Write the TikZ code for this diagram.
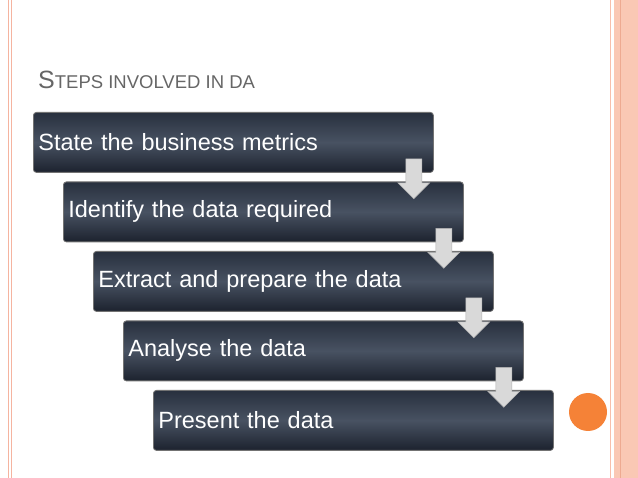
\documentclass[tikz,border=0pt]{standalone}
\usepackage{fontspec}
\setmainfont{Liberation Sans}
\definecolor{boxtop}{RGB}{40,48,62}
\definecolor{boxmid}{RGB}{72,82,98}
\definecolor{boxbot}{RGB}{28,34,46}
\begin{document}
\begin{tikzpicture}[x=1pt,y=-1pt,
  stepbox/.style={draw=black!55,line width=0.8pt,rounded corners=3pt,top color=boxtop,bottom color=boxbot,middle color=boxmid,minimum width=400pt,minimum height=60pt,anchor=north west,text=white,font=\fontsize{23.5}{26}\selectfont,align=left,text width=390pt,inner xsep=5pt},
  downarrow/.style={fill=black!15,draw=black!30,line width=0.5pt}]
\useasboundingbox (0,0) rectangle (638,478);
\fill[white] (0,0) rectangle (638,478);
\draw[color={rgb,255:red,245;green,180;blue,160},line width=1pt] (8,0)--(8,478) (11,0)--(11,478);
\draw[color={rgb,255:red,248;green,190;blue,170},line width=1pt] (610,0)--(610,478);
\fill[color={rgb,255:red,250;green,200;blue,180}] (614,0) rectangle (638,478);
\draw[color={rgb,255:red,238;green,170;blue,145},line width=1pt] (620,0)--(620,478);
\node[anchor=base west,text=black!60,inner sep=0pt] (title) at (38,89) {\fontsize{25}{28}\selectfont S\fontsize{18.5}{20}\selectfont TEPS INVOLVED IN DA};
\foreach \i/\t in {1/State the business metrics,2/Identify the data required,3/Extract and prepare the data,4/Analyse the data,5/Present the data}{
  \node[stepbox] (b\i) at ({33+30*(\i-1)},{112+69.5*(\i-1)}) {\t};
}
\foreach \i in {1,2,3,4}{
  \path (b\i.south east) ++(-20,-14) coordinate (a\i);
  \draw[downarrow] (a\i) ++(-8,0) -- ++(16,0) -- ++(0,24) -- ++(8,0) -- ++(-16,16) -- ++(-16,-16) -- ++(8,0) -- cycle;
}
\fill[color={rgb,255:red,245;green,130;blue,55}] (588,412) circle (19);
\end{tikzpicture}
\end{document}
